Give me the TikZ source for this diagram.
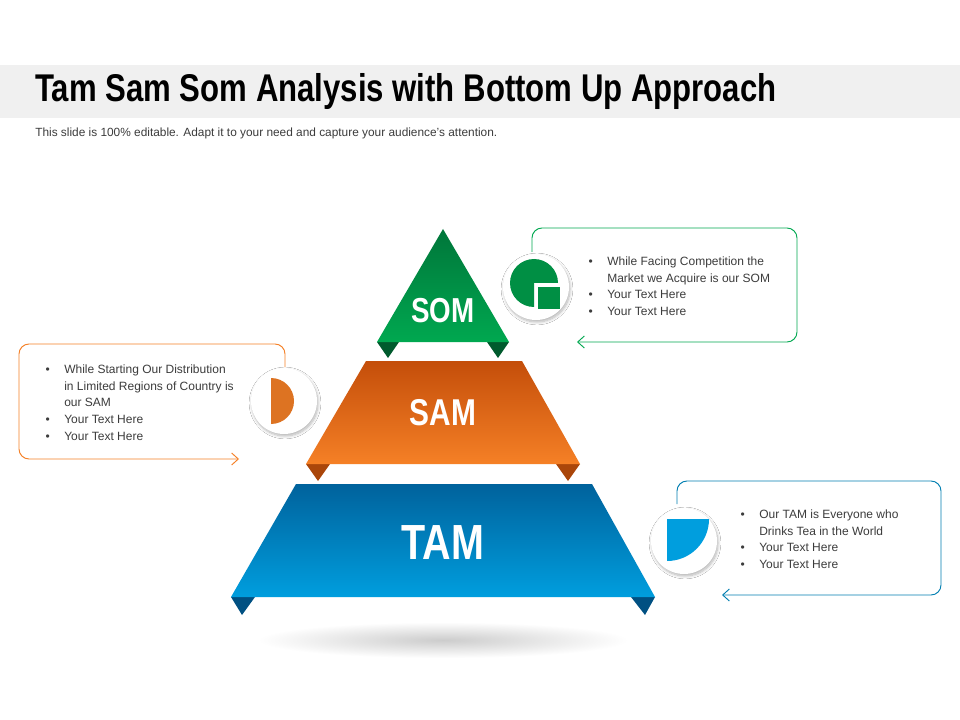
\documentclass[tikz,border=0pt]{standalone}
\usepackage{fontspec}
\setmainfont{Liberation Sans}
\usetikzlibrary{shadows.blur,arrows.meta}
\definecolor{gA}{RGB}{0,118,58}\definecolor{gB}{RGB}{0,168,80}\definecolor{gD}{RGB}{0,90,45}
\definecolor{oA}{RGB}{196,78,10}\definecolor{oB}{RGB}{245,128,38}\definecolor{oD}{RGB}{170,70,10}
\definecolor{bA}{RGB}{0,98,156}\definecolor{bB}{RGB}{0,158,222}\definecolor{bD}{RGB}{0,80,130}
\definecolor{txt}{RGB}{60,60,60}
\tikzset{
 lbl/.style={text=white,font=\bfseries},
 bul/.style={anchor=north west,text=txt,font=\fontsize{9}{12.5}\selectfont,align=left},
 icon/.style={circle,fill=white,minimum size=49.5pt,inner sep=0pt,blur shadow={shadow blur steps=8,shadow xshift=0.75pt,shadow yshift=-1.5pt,shadow opacity=30}},
 conn/.style={line width=0.7pt,rounded corners=7.5pt,-{Straight Barb[length=5pt,width=9pt,line width=0.7pt]}},
}
\newcommand{\bl}{\textbullet\hspace{1.2em}}
\begin{document}
\begin{tikzpicture}[x=0.75pt,y=-0.75pt]
\useasboundingbox (0,0) rectangle (960,720);
\fill[white] (0,0) rectangle (960,720);
\fill[gray!12] (0,65) rectangle (960,118);
\node[anchor=west,inner sep=0pt] (title) at (35,92) {\scalebox{0.805}[1]{\fontsize{29}{30}\selectfont\bfseries Tam Sam Som Analysis with Bottom Up Approach}};
\node[anchor=west,inner sep=0pt,text=txt] (sub) at (35,133) {\fontsize{8.9}{9}\selectfont This slide is 100\% editable. Adapt it to your need and capture your audience's attention.};
% shadow
\shade[inner color=gray!40,outer color=white] (443,640) ellipse (138.75pt and 13.5pt);
% SOM
\fill[gD] (377,342)--(399,342)--(388,358)--cycle;
\fill[gD] (487,342)--(509,342)--(498,358)--cycle;
\shade[left color=gA,right color=gB,shading angle=0] (443,229)--(509,342)--(377,342)--cycle;
\node[lbl] (som) at (443,311) {\scalebox{0.8}[1]{\fontsize{26}{28}\selectfont SOM}};
% SAM
\fill[oD] (306,464)--(330,464)--(318,481)--cycle;
\fill[oD] (556,464)--(580,464)--(568,481)--cycle;
\shade[top color=oA,bottom color=oB] (366,361)--(522,361)--(580,464)--(306,464)--cycle;
\node[lbl] (sam) at (443,413) {\scalebox{0.8}[1]{\fontsize{28}{30}\selectfont SAM}};
% TAM
\fill[bD] (231,597)--(255,597)--(242,615)--cycle;
\fill[bD] (631,597)--(655,597)--(645,615)--cycle;
\shade[top color=bA,bottom color=bB] (296,484)--(592,484)--(655,597)--(231,597)--cycle;
\node[lbl] (tam) at (443,543) {\scalebox{0.8}[1]{\fontsize{37}{39}\selectfont TAM}};
% connectors
\coordinate (s1) at (532,252); \coordinate (s2) at (577,342);
\draw[conn,gB] (s1)--(532,228)--(797,228)--(797,342)--(s2);
\coordinate (a1) at (285,367); \coordinate (a2) at (239,459);
\draw[conn,oB] (a1)--(285,344)--(19,344)--(19,459)--(a2);
\coordinate (t1) at (677,504); \coordinate (t2) at (722,595);
\draw[conn,bB!80!black] (t1)--(677,481)--(941,481)--(941,595)--(t2);
% icons
\node[icon] (isom) at (536,287) {};
\fill[gB!85!black] (534,283) -- (558,283) arc[start angle=0,end angle=270,radius=18pt] -- cycle;
\fill[gB!85!black] (538,287) rectangle (560,309);
\node[icon] (isam) at (284,401) {};
\fill[oB!90!black] (271,378) arc[start angle=90,end angle=-90,radius=17.25pt] -- cycle;
\node[icon] (itam) at (684,541) {};
\fill[bB] (667,519) -- (709,519) arc[start angle=0,end angle=-90,radius=31.5pt] -- cycle;
% texts
\node[bul] (tsom) at (584,252) {\bl While Facing Competition the\\\hspace*{1.2em}\hspace{0.35em}Market we Acquire is our SOM\\\bl Your Text Here\\\bl Your Text Here};
\node[bul] (tsam) at (41,360) {\bl While Starting Our Distribution\\\hspace*{1.2em}\hspace{0.35em}in Limited Regions of Country is\\\hspace*{1.2em}\hspace{0.35em}our SAM\\\bl Your Text Here\\\bl Your Text Here};
\node[bul] (ttam) at (736,505) {\bl Our TAM is Everyone who\\\hspace*{1.2em}\hspace{0.35em}Drinks Tea in the World\\\bl Your Text Here\\\bl Your Text Here};
\end{tikzpicture}
\end{document}
